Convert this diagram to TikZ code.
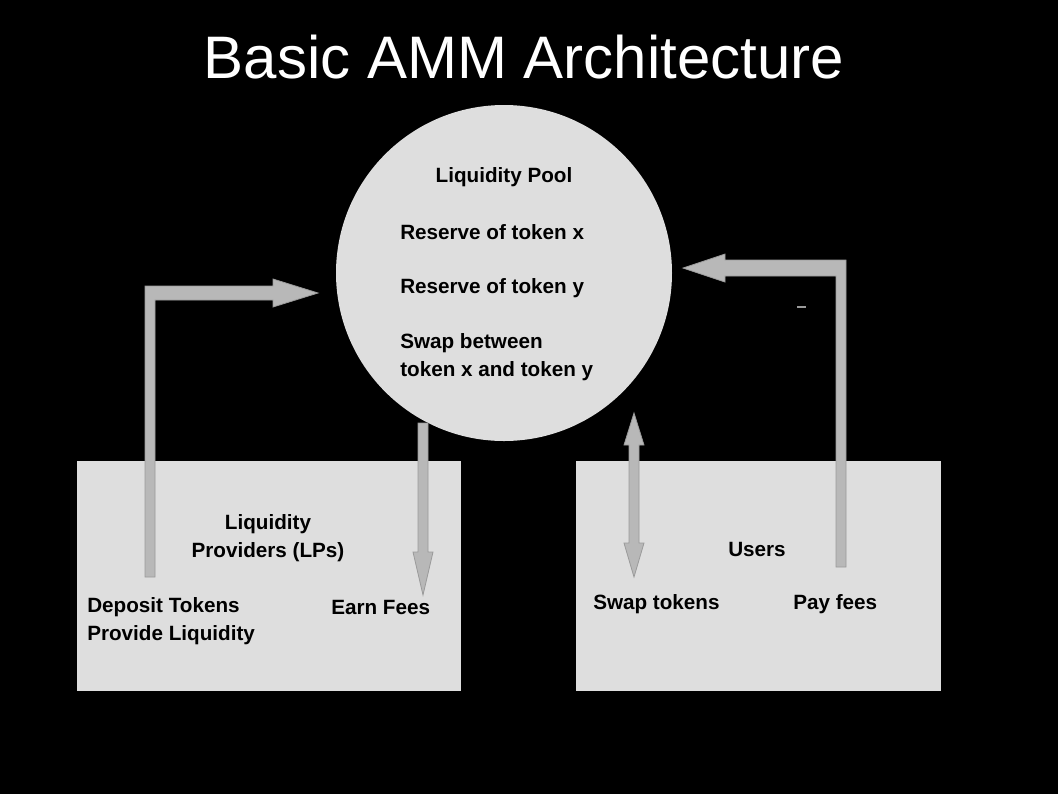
\documentclass[tikz,border=0pt]{standalone}
\usepackage{fontspec}
\setmainfont{Liberation Sans}
\begin{document}
\begin{tikzpicture}[x=0.75pt,y=-0.75pt,
  txt/.style={font=\bfseries\fontsize{15.5}{21}\selectfont,text=black,inner sep=0pt},
  arr/.style={fill=arrgray,draw=arrline,line width=0.6pt},
  panel/.style={fill=panelgray,draw=none}]
\definecolor{panelgray}{HTML}{DEDEDE}
\definecolor{arrgray}{HTML}{B8B8B8}
\definecolor{arrline}{HTML}{9A9A9A}
\fill[black] (0,0) rectangle (1058,794);
\useasboundingbox (0,0) rectangle (1058,794);
\node[text=white,font=\fontsize{45}{50}\selectfont,inner sep=0pt] (title) at (524,57) {Basic AMM Architecture};
\fill[panel] (77,461) rectangle (461,691);
\fill[panel] (576,461) rectangle (941,691);
\node[circle,fill=panelgray,minimum size=336*0.75pt,inner sep=0pt] (pool) at (504,273) {};
% left L arrow
\draw[arr] (145,577) -- (145,286) -- (273,286) -- (273,279) -- (318,293) -- (273,307) -- (273,300) -- (155,300) -- (155,577) -- cycle;
% right L arrow
\draw[arr] (836,567) -- (836,276) -- (725,276) -- (725,282) -- (683,268) -- (725,254) -- (725,260) -- (846,260) -- (846,567) -- cycle;
% down arrow
\draw[arr] (418,423) -- (428,423) -- (428,552) -- (433,552) -- (423,595) -- (413,552) -- (418,552) -- cycle;
% double arrow
\draw[arr] (634,413) -- (644,445) -- (639,445) -- (639,543) -- (644,543) -- (634,577) -- (624,543) -- (629,543) -- (629,445) -- (624,445) -- cycle;
\draw[arrline,line width=0.8pt] (797,307) -- (806,307);
\node[txt] (lp) at (504,177) {Liquidity Pool};
\node[txt,anchor=west] (rx) at (400,232) {Reserve of token x};
\node[txt,anchor=west] (ry) at (400,288) {Reserve of token y};
\node[txt,anchor=west,align=left] (sw) at (400,357) {Swap between\\token x and token y};
\node[txt,align=center] (lps) at (268,538) {Liquidity\\Providers (LPs)};
\node[txt,anchor=west,align=left] (dep) at (87,621) {Deposit Tokens\\Provide Liquidity};
\node[txt,anchor=west] (earn) at (331,607) {Earn Fees};
\node[txt] (users) at (757,549) {Users};
\node[txt,anchor=west] (swt) at (593,604) {Swap tokens};
\node[txt,anchor=west] (pay) at (793,604) {Pay fees};
\end{tikzpicture}
\end{document}
